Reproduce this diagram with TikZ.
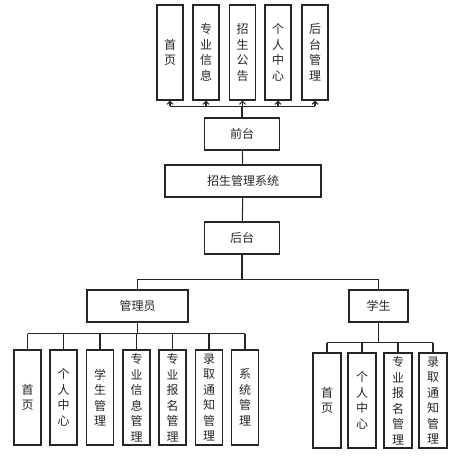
\documentclass[tikz,border=0pt]{standalone}
\usepackage{fontspec}
\newfontfamily\cjk{Noto Sans CJK SC}
\usetikzlibrary{arrows.meta}

\tikzset{
  box/.style={draw=black!85, line width=1.1pt, minimum width=75pt, minimum height=32pt,
    text=black!85, font=\cjk\fontsize{12}{14}\selectfont},
  tallbox/.style={draw=black!85, line width=1.1pt, minimum width=27pt, minimum height=95pt,
    inner sep=0pt, align=center, text=black!85, font=\cjk\fontsize{12}{15.5}\selectfont},
  link/.style={draw=black!85, line width=1.1pt}
}

\begin{document}
\begin{tikzpicture}[x=1pt, y=-1pt]
  \useasboundingbox (0,0) rectangle (474,458);

  % front pages
  \foreach \i/\x/\txt in {1/170/{首\\页}, 2/206/{专\\业\\信\\息}, 3/242.5/{招\\生\\公\\告},
                          4/278/{个\\人\\中\\心}, 5/315/{后\\台\\管\\理}} {
    \node[tallbox, minimum width=26pt] (front\i) at (\x, 52.5) {\txt};
  }

  % main line
  \node[box] (qiantai) at (242, 134) {前台};
  \node[box, minimum width=156pt] (xitong) at (243, 181) {招生管理系统};
  \node[box] (houtai) at (242, 238) {后台};
  \draw[link] (qiantai) -- (xitong);
  \draw[link] (xitong) -- (houtai);

  \draw[link] (qiantai.north) -- ++(0,-11) coordinate (topbar);
  \draw[link] (front1.south |- topbar) -- (front5.south |- topbar);
  \foreach \i in {1, 2, ..., 5} {
    \draw[link, -{Straight Barb[length=3pt, width=6pt]}] (front\i.south |- topbar) -- (front\i.south);
  }

  % back end
  \node[box, minimum width=101pt] (admin) at (137.5, 306) {管理员};
  \node[box, minimum width=59pt] (student) at (378.5, 306) {学生};
  \draw[link] (houtai.south) -- ++(0,25) coordinate (split);
  \draw[link] (admin.north) -- (admin.north |- split) -- (student.north |- split) -- (student.north);

  % admin modules
  \foreach \i/\x/\txt in {1/27.5/{首\\页}, 2/63.5/{个\\人\\中\\心}, 3/100/{学\\生\\管\\理},
                          4/136.5/{专\\业\\信\\息\\管\\理}, 5/172.5/{专\\业\\报\\名\\管\\理},
                          6/209/{录\\取\\通\\知\\管\\理}, 7/245/{系\\统\\管\\理}} {
    \node[tallbox] (adm\i) at (\x, 397.5) {\txt};
  }
  \draw[link] (admin.south) -- ++(0,11) coordinate (admbar);
  \draw[link] (adm1.north |- admbar) -- (adm7.north |- admbar);
  \foreach \i in {1, 2, ..., 7} {
    \draw[link] (adm\i.north |- admbar) -- (adm\i.north);
  }

  % student modules
  \foreach \i/\x/\txt in {1/327/{首\\页}, 2/362/{个\\人\\中\\心},
                          3/398/{专\\业\\报\\名\\管\\理}, 4/433/{录\\取\\通\\知\\管\\理}} {
    \node[tallbox, minimum width=28pt] (stu\i) at (\x, 400.5) {\txt};
  }
  \draw[link] (student.south) -- ++(0,20) coordinate (stubar);
  \draw[link] (stu1.north |- stubar) -- (stu4.north |- stubar);
  \foreach \i in {1, 2, ..., 4} {
    \draw[link] (stu\i.north |- stubar) -- (stu\i.north);
  }
\end{tikzpicture}
\end{document}
